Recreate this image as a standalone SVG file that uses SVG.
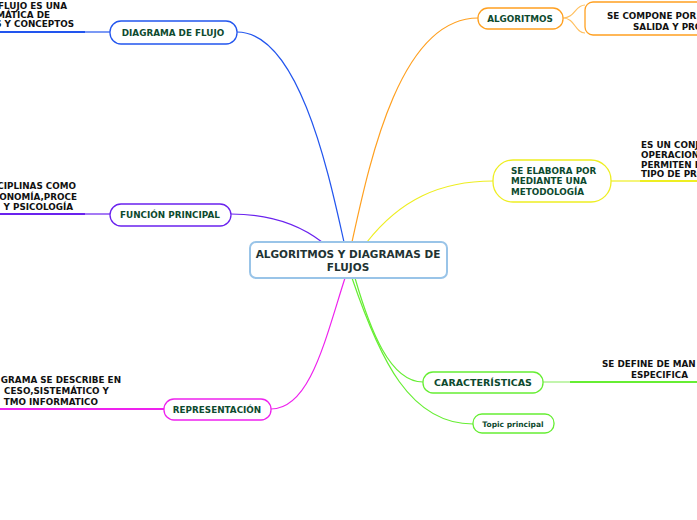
<svg xmlns="http://www.w3.org/2000/svg" width="697" height="520" viewBox="0 0 697 520">
<style>
.n{fill:#fff;stroke-width:1.3}
.t{font-family:"DejaVu Sans",Verdana,sans-serif;font-weight:bold;font-size:8.8px;fill:#0d4a2e}
.l{font-family:"DejaVu Sans",Verdana,sans-serif;font-weight:bold;font-size:8.8px;fill:#111}
.c{fill:none;stroke-width:1.2}
</style>
<rect width="697" height="520" fill="#fff"/>
<g id="connectors">
<path class="c" stroke="#2255ee" d="M344 242 C330 180 300 32 237 32"/>
<path class="c" stroke="#2255ee" d="M110 32 H85"/><path stroke="#2255ee" stroke-width="2" d="M85 32 H0"/>
<path class="c" stroke="#6a22ee" d="M322 242 C300 225 270 214 231 214"/>
<path class="c" stroke="#6a22ee" d="M110 214 H85"/><path stroke="#6a22ee" stroke-width="2" d="M85 214 H0"/>
<path class="c" stroke="#ee22ee" d="M345 278 C325 340 310 409 271 409"/>
<path stroke="#ee22ee" stroke-width="2" d="M164 409 H0"/>
<path class="c" stroke="#ffa020" d="M352 242 C370 160 400 18 478 18"/>
<path class="c" stroke="#ffc060" d="M563 18 C575 18 575 5 585 5 M563 18 C575 18 575 33 585 33"/>
<path class="c" stroke="#eeee22" d="M367 242 C400 200 440 181 493 181"/>
<path class="c" stroke="#eeee22" d="M611 181 H640"/><path stroke="#eeee22" stroke-width="2" d="M640 181 H697"/>
<path class="c" stroke="#66ee33" d="M355 278 C370 330 390 382 423 382"/>
<path class="c" stroke="#66ee33" d="M352 278 C380 360 410 424 473 424"/>
<path class="c" stroke="#99ee77" d="M543 382 H570"/><path stroke="#66ee33" stroke-width="2" d="M570 382 H697"/>
</g>
<g id="center"><rect x="250" y="242" width="197" height="36" rx="6" fill="#fff" stroke="#99c4e8" stroke-width="2"/>
<text x="348" y="258" text-anchor="middle" class="t" style="font-size:10.5px;fill:#233">ALGORITMOS Y DIAGRAMAS DE</text>
<text x="348" y="271" text-anchor="middle" class="t" style="font-size:10.5px;fill:#233">FLUJOS</text></g>
<g id="n1"><rect class="n" stroke="#2255ee" x="110" y="21" width="127" height="23" rx="11"/><text class="t" x="173" y="36" text-anchor="middle">DIAGRAMA DE FLUJO</text></g>
<g id="n1l"><text class="l" x="67" y="9" text-anchor="end">FLUJO ES UNA</text><text class="l" x="50" y="18" text-anchor="end">MÁTICA DE</text><text class="l" x="74" y="27" text-anchor="end">AS Y CONCEPTOS</text></g>
<g id="n2"><rect class="n" stroke="#6a22ee" x="110" y="204" width="121" height="22" rx="11"/><text class="t" x="170" y="218" text-anchor="middle">FUNCIÓN PRINCIPAL</text></g>
<g id="n2l"><text class="l" x="76" y="189" text-anchor="end">CIPLINAS COMO</text><text class="l" x="77" y="200" text-anchor="end">CONOMÍA,PROCE</text><text class="l" x="73" y="210" text-anchor="end">Y PSICOLOGÍA</text></g>
<g id="n3"><rect class="n" stroke="#ee22ee" x="164" y="399" width="107" height="21" rx="10"/><text class="t" x="217" y="413" text-anchor="middle">REPRESENTACIÓN</text></g>
<g id="n3l"><text class="l" x="121" y="383" text-anchor="end">GRAMA SE DESCRIBE EN</text><text class="l" x="109" y="394" text-anchor="end">CESO,SISTEMÁTICO Y</text><text class="l" x="98" y="405" text-anchor="end">TMO INFORMATICO</text></g>
<g id="n4"><rect class="n" stroke="#ffa020" x="478" y="8" width="85" height="21" rx="10"/><text class="t" x="520" y="22" text-anchor="middle">ALGORITMOS</text></g>
<g id="n5"><rect class="n" stroke="#ffa020" stroke-width="1.5" x="585" y="2" width="130" height="33" rx="8"/><text class="l" x="607" y="19">SE COMPONE POR :</text><text class="l" x="633" y="30">SALIDA Y PRO</text></g>
<g id="n6"><rect class="n" stroke="#eeee22" x="493" y="160" width="118" height="42" rx="20"/><text class="t" x="511" y="174">SE ELABORA POR</text><text class="t" x="511" y="184">MEDIANTE UNA</text><text class="t" x="511" y="195">METODOLOGÍA</text></g>
<g id="n6l"><text class="l" x="641" y="148">ES UN CONJU</text><text class="l" x="641" y="158">OPERACIONI</text><text class="l" x="641" y="168">PERMITEN H</text><text class="l" x="641" y="177">TIPO DE PRO</text></g>
<g id="n7"><rect class="n" stroke="#66ee33" x="423" y="372" width="120" height="21" rx="10"/><text class="t" x="483" y="386" text-anchor="middle" style="font-size:9.5px">CARACTERÍSTICAS</text></g>
<g id="n7l"><text class="l" x="602" y="367">SE DEFINE DE MAN</text><text class="l" x="631" y="378">ESPECIFICA</text></g>
<g id="n8"><rect class="n" stroke="#66ee33" x="473" y="414" width="81" height="19" rx="9"/><text class="t" x="513" y="427" text-anchor="middle" style="font-size:7.5px">Topic principal</text></g>
</svg>
